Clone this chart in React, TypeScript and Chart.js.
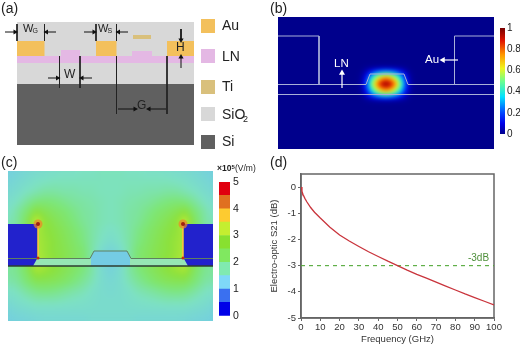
import React, { useEffect, useRef } from "react";
import { Chart, registerables } from "chart.js";

Chart.register(...registerables);

const FONT = "'Liberation Sans', Arial, sans-serif";

/* ---------- panel (d) data ---------- */
const freqGHz = [0, 0.5, 1, 2, 3, 5, 7, 10, 15, 20, 25, 30, 35, 40, 45, 50, 55, 60, 65, 70, 75, 80, 85, 90, 95, 100];
const s21dB = [0, -0.16, -0.27, -0.43, -0.56, -0.78, -0.96, -1.18, -1.53, -1.83, -2.06, -2.27, -2.47, -2.65, -2.83, -3.0, -3.17, -3.33, -3.48, -3.63, -3.78, -3.93, -4.08, -4.22, -4.36, -4.5];
const cutoffDb = -3;
const freqTicks = [0, 100];
const legendNames = ["Au", "LN", "Ti", "SiO", "Si"];

/* ---------- panel (b): mode profile, one quadrant about the waveguide centre ---------- */
const modeDx = [0, 5, 10, 15, 20, 25, 30];
const modeDy = [0, 4, 8, 12, 16, 20];
const modeQuadrant = [
  [1.0, 0.92, 0.72, 0.48, 0.17, 0.02, 0],
  [0.85, 0.78, 0.62, 0.4, 0.14, 0.015, 0],
  [0.66, 0.6, 0.48, 0.3, 0.1, 0.01, 0],
  [0.33, 0.3, 0.23, 0.14, 0.05, 0.005, 0],
  [0.04, 0.035, 0.03, 0.02, 0.01, 0, 0],
  [0, 0, 0, 0, 0, 0, 0],
];
const modeTicks = [0, 1];

/* ---------- panel (c): electric field, left half of a symmetric section ---------- */
const fieldCx = [8, 17, 27, 36, 45, 55, 64, 73, 83, 92, 101, 110.5];
const fieldCy = [171, 181, 191, 201, 211, 221, 231, 241, 251, 261, 271, 281, 291, 301, 311, 321];
const fieldCHalf = [
  [1.3, 1.4, 1.5, 1.55, 1.6, 1.65, 1.7, 1.7, 1.75, 1.75, 1.8, 1.8],
  [1.4, 1.5, 1.6, 1.7, 1.75, 1.8, 1.8, 1.8, 1.8, 1.8, 1.8, 1.8],
  [1.5, 1.6, 1.75, 1.85, 1.95, 1.95, 1.9, 1.9, 1.85, 1.85, 1.8, 1.8],
  [1.6, 1.75, 2.0, 2.2, 2.25, 2.2, 2.1, 2.0, 1.95, 1.9, 1.85, 1.8],
  [1.7, 1.95, 2.3, 2.7, 2.55, 2.4, 2.3, 2.15, 2.0, 1.95, 1.85, 1.8],
  [1.8, 2.0, 2.5, 3.2, 2.75, 2.55, 2.4, 2.25, 2.05, 1.95, 1.85, 1.8],
  [1.8, 2.0, 2.5, 3.0, 2.8, 2.65, 2.5, 2.35, 2.15, 1.95, 1.8, 1.7],
  [1.8, 2.0, 2.5, 3.0, 2.85, 2.7, 2.55, 2.4, 2.2, 1.95, 1.75, 1.6],
  [1.8, 2.0, 2.5, 3.05, 2.85, 2.7, 2.6, 2.45, 2.3, 1.95, 1.6, 1.4],
  [1.9, 2.1, 2.6, 3.1, 2.9, 2.75, 2.6, 2.45, 2.3, 1.95, 1.5, 1.3],
  [2.0, 2.1, 2.45, 2.95, 2.85, 2.7, 2.55, 2.4, 2.2, 1.95, 1.6, 1.4],
  [1.9, 2.0, 2.3, 2.55, 2.55, 2.5, 2.4, 2.25, 2.05, 1.85, 1.6, 1.5],
  [1.7, 1.8, 2.0, 2.15, 2.2, 2.15, 2.05, 1.95, 1.85, 1.7, 1.6, 1.55],
  [1.55, 1.65, 1.75, 1.85, 1.85, 1.85, 1.8, 1.75, 1.7, 1.65, 1.6, 1.6],
  [1.4, 1.5, 1.55, 1.6, 1.6, 1.6, 1.6, 1.6, 1.6, 1.6, 1.6, 1.6],
  [1.3, 1.35, 1.4, 1.45, 1.5, 1.5, 1.5, 1.5, 1.5, 1.55, 1.55, 1.55],
];
const fieldBarStep = [0.5, 0.5, 0.5, 0.5, 0.5, 0.5, 0.5, 0.5, 0.5, 0.5];
const fieldBarColors = ["#0000e8", "#3a70f0", "#7fd8f8", "#80eab0", "#80e860", "#88e030", "#c4ee30", "#fdcb30", "#e07020", "#e0000f"];

/* ---------- colour maps ---------- */
type Stop = [number, number, number, number];
const jetStops: Stop[] = [
  [0, 0, 0, 140], [0.1, 0, 0, 235], [0.2, 0, 70, 255], [0.35, 0, 225, 255], [0.5, 110, 255, 140],
  [0.62, 240, 245, 30], [0.75, 255, 150, 0], [0.88, 225, 20, 0], [1, 120, 0, 0],
];
const fieldStops: Stop[] = [
  [0, 0, 0, 230], [0.75, 60, 110, 235], [1.25, 115, 205, 225], [1.75, 125, 225, 195], [2.25, 125, 230, 120],
  [2.75, 140, 225, 60], [3.25, 200, 235, 50], [3.75, 255, 205, 40], [4.25, 230, 115, 30], [4.75, 225, 0, 0],
];
function sample(stops: Stop[], v: number): number[] {
  if (v <= stops[0][0]) return stops[0].slice(1);
  for (let i = 1; i < stops.length; i++) {
    if (v <= stops[i][0]) {
      const a = stops[i - 1], b = stops[i];
      const t = (v - a[0]) / (b[0] - a[0]);
      return [1, 2, 3].map((k) => a[k] + (b[k] - a[k]) * t);
    }
  }
  return stops[stops.length - 1].slice(1);
}

/* ---------- helpers ---------- */
type P = [number, number];
const rectPts = (x0: number, y0: number, x1: number, y1: number): P[] => [[x0, y0], [x1, y0], [x1, y1], [x0, y1]];
const xy = (pts: P[]) => pts.map(([x, y]) => ({ x, y }));
const shape = (pts: P[], color: string) => ({ data: xy(pts), showLine: false, pointRadius: 0, polyFill: color, clip: false });
const stroke = (pts: P[], color: string, width = 1, dash: number[] = []) => ({
  data: xy(pts), showLine: true, borderColor: color, borderWidth: width, borderDash: dash, pointRadius: 0, tension: 0, fill: false, clip: false,
});
const arrow = (a: P, b: P, color = "#111", width = 1, head = 3) => ({
  ...stroke([a, b], color, width),
  pointRadius: [0, head],
  pointStyle: "triangle",
  pointRotation: (Math.atan2(b[1] - a[1], b[0] - a[0]) * 180) / Math.PI + 90,
  pointBackgroundColor: color,
  pointBorderColor: color,
  pointBorderWidth: 0,
});
const stack = (sets: any[]) => sets.map((s, i) => ({ ...s, order: sets.length - i }));

type Label = { t: string; x: number; y: number; size: number; color?: string; weight?: string; align?: CanvasTextAlign };

const polyPlugin = {
  id: "polyFill",
  beforeDatasetDraw(chart: any, args: any) {
    const ds = chart.data.datasets[args.index];
    if (!ds.polyFill) return;
    const pts = args.meta.data;
    const ctx = chart.ctx;
    ctx.save();
    ctx.beginPath();
    pts.forEach((p: any, i: number) => (i ? ctx.lineTo(p.x, p.y) : ctx.moveTo(p.x, p.y)));
    ctx.closePath();
    ctx.fillStyle = ds.polyFill;
    ctx.fill();
    ctx.restore();
  },
};

const labelPlugin = (labels: Label[]) => ({
  id: "panelLabels",
  afterDatasetsDraw(chart: any) {
    const { ctx, scales } = chart;
    ctx.save();
    ctx.textBaseline = "middle";
    for (const l of labels) {
      ctx.font = `${l.weight || "normal"} ${l.size}px ${FONT}`;
      ctx.fillStyle = l.color || "#222";
      ctx.textAlign = l.align || "left";
      ctx.fillText(l.t, scales.x.getPixelForValue(l.x), scales.y.getPixelForValue(l.y));
    }
    ctx.restore();
  },
});

const findCell = (axis: number[], v: number) => {
  let i = 0;
  while (i < axis.length - 2 && v > axis[i + 1]) i++;
  const t = Math.max(0, Math.min(1, (v - axis[i]) / (axis[i + 1] - axis[i])));
  return [i, t];
};

const fieldPlugin = (xs: number[], ys: number[], grid: number[][], stops: Stop[], soften: number) => ({
  id: "panelField",
  beforeDatasetsDraw(chart: any) {
    const { ctx, scales } = chart;
    const px0 = Math.round(scales.x.getPixelForValue(xs[0]));
    const px1 = Math.round(scales.x.getPixelForValue(xs[xs.length - 1]));
    const py0 = Math.round(scales.y.getPixelForValue(ys[0]));
    const py1 = Math.round(scales.y.getPixelForValue(ys[ys.length - 1]));
    const w = px1 - px0, h = py1 - py0;
    const img = ctx.createImageData(w, h);
    for (let r = 0; r < h; r++) {
      const [j, v] = findCell(ys, scales.y.getValueForPixel(py0 + r + 0.5));
      for (let c = 0; c < w; c++) {
        const [i, u] = findCell(xs, scales.x.getValueForPixel(px0 + c + 0.5));
        const val =
          grid[j][i] * (1 - u) * (1 - v) + grid[j][i + 1] * u * (1 - v) +
          grid[j + 1][i] * (1 - u) * v + grid[j + 1][i + 1] * u * v;
        const rgb = sample(stops, val);
        const o = (r * w + c) * 4;
        img.data[o] = rgb[0]; img.data[o + 1] = rgb[1]; img.data[o + 2] = rgb[2]; img.data[o + 3] = 255;
      }
    }
    const off = document.createElement("canvas");
    off.width = w; off.height = h;
    off.getContext("2d")!.putImageData(img, 0, 0);
    ctx.drawImage(off, px0, py0);
    ctx.save();
    ctx.beginPath();
    ctx.rect(px0, py0, w, h);
    ctx.clip();
    ctx.filter = `blur(${soften}px)`;
    ctx.drawImage(off, px0, py0);
    ctx.restore();
  },
});

/* a diagram panel: page-sized units on hidden linear axes */
function panelConfig(range: number[], datasets: any[], plugins: any[]) {
  return {
    type: "scatter",
    data: { datasets: stack(datasets) },
    options: {
      animation: false, responsive: false,
      layout: { padding: 0, autoPadding: false },
      plugins: { legend: { display: false }, tooltip: { enabled: false }, title: { display: false } },
      scales: {
        x: { type: "linear", display: false, min: range[0], max: range[1] },
        y: { type: "linear", display: false, min: range[2], max: range[3], reverse: true },
      },
    },
    plugins: [polyPlugin, ...plugins],
  };
}

/* ---------- panel (a) ---------- */
const AU = "#f3c05c", LN = "#e4b8e4", TI = "#d9c07c", SIO2 = "#d8d8d8", SI = "#606060";
const panelA = () => {
  const swatches: [string, number][] = [[AU, 19], [LN, 49], [TI, 80], [SIO2, 107], [SI, 135]];
  const ds: any[] = [
    shape(rectPts(17, 22, 194, 84), SIO2),
    shape(rectPts(17, 84, 194, 145), SI),
    shape(rectPts(17, 56, 194, 63), LN),
    shape(rectPts(61, 50, 80, 56), LN),
    shape(rectPts(132, 51, 152, 56), LN),
    shape(rectPts(133, 35, 151, 39), TI),
    shape(rectPts(17, 41, 44.5, 56), AU),
    shape(rectPts(96, 41, 116.5, 56), AU),
    shape(rectPts(167, 41, 194, 56), AU),
    ...swatches.map(([c, y]) => shape(rectPts(201, y, 215, y + 14), c)),
    stroke([[17, 24], [17, 41]], "#222"),
    stroke([[44.5, 24], [44.5, 41]], "#222"),
    stroke([[96, 24], [96, 41]], "#222"),
    stroke([[116.5, 24], [116.5, 41]], "#222"),
    stroke([[59.5, 56], [59.5, 88]], "#222"),
    stroke([[80, 56], [80, 88]], "#222"),
    stroke([[116.5, 56], [116.5, 114]], "#222"),
    stroke([[167, 56], [167, 114]], "#222"),
    arrow([5, 32], [15, 32]),
    arrow([56, 32], [46.5, 32]),
    arrow([84, 32], [94, 32]),
    arrow([128, 32], [118.5, 32]),
    arrow([48, 78], [57.5, 78]),
    arrow([92, 78], [82, 78]),
    arrow([118, 109], [135, 109]),
    arrow([166, 109], [149, 109]),
    arrow([181, 29], [181, 40]),
    arrow([181, 68], [181, 57]),
  ];
  const labels: Label[] = [
    { t: "(a)", x: 1, y: 9, size: 14 },
    { t: "W", x: 23, y: 29, size: 11 },
    { t: "G", x: 32.5, y: 31, size: 7 },
    { t: "W", x: 98, y: 29, size: 11 },
    { t: "S", x: 107.5, y: 31, size: 7 },
    { t: "W", x: 64, y: 75, size: 12 },
    { t: "G", x: 137, y: 106, size: 12 },
    { t: "H", x: 176, y: 48, size: 12 },
    { t: legendNames[0], x: 222, y: 26, size: 14 },
    { t: legendNames[1], x: 222, y: 57, size: 14 },
    { t: legendNames[2], x: 222, y: 87, size: 14 },
    { t: legendNames[3], x: 222, y: 115, size: 14 },
    { t: "2", x: 243, y: 120, size: 9 },
    { t: legendNames[4], x: 222, y: 142, size: 14 },
  ];
  return panelConfig([0, 260, 0, 150], ds, [labelPlugin(labels)]);
};

/* ---------- panel (b) ---------- */
const panelB = () => {
  const cx = 386, cy = 84;
  const mx = [278, ...[...modeDx].reverse().map((d) => cx - d), ...modeDx.slice(1).map((d) => cx + d), 494];
  const my = [17, ...[...modeDy].reverse().map((d) => cy - d), ...modeDy.slice(1).map((d) => cy + d), 149];
  const row = (r: number[]) => [0, ...[...r].reverse(), ...r.slice(1), 0];
  const zero = row(modeDx.map(() => 0));
  const grid = [zero, ...[...modeQuadrant].reverse().map(row), ...modeQuadrant.slice(1).map(row), zero];
  const edge = "#a8b0d8";
  const ds = [
    stroke([[278, 36], [319, 36], [319, 84]], edge),
    stroke([[278, 84.5], [366, 84.5], [370, 74], [404, 74], [408, 84.5], [494, 84.5]], edge),
    stroke([[454.5, 84], [454.5, 36], [494, 36]], edge),
    stroke([[278, 94.5], [494, 94.5]], edge),
    arrow([342, 88], [342, 73], "#fff", 1.2, 3.5),
    arrow([458, 60], [443, 60], "#fff", 1.2, 3.5),
  ];
  const labels: Label[] = [
    { t: "(b)", x: 270, y: 9, size: 14 },
    { t: "LN", x: 334, y: 64, size: 11.5, color: "#fff" },
    { t: "Au", x: 425, y: 60, size: 11.5, color: "#fff" },
  ];
  return panelConfig([260, 500, 0, 150], ds, [fieldPlugin(mx, my, grid, jetStops, 2), labelPlugin(labels)]);
};

/* ---------- panel (c) ---------- */
const panelC = () => {
  const mirrorX = (x: number) => 221 - x;
  const xs = [...fieldCx, ...fieldCx.slice(0, -1).reverse().map(mirrorX)];
  const grid = fieldCHalf.map((r) => [...r, ...r.slice(0, -1).reverse()]);
  const blue = "#2222cc";
  const ln = "#5f7f60";
  const ds = [
    shape([[33, 259], [90, 259], [94, 251], [127, 251], [131, 259], [188, 259], [188, 266], [33, 266]], "#96e6b4"),
    shape([[91, 266], [91, 257], [94, 251], [127, 251], [130, 257], [130, 266]], "#74cce4"),
    shape([[8, 224], [37.5, 224], [37.5, 258], [33, 266], [8, 266]], blue),
    shape([[213, 224], [183.5, 224], [183.5, 258], [188, 266], [213, 266]], blue),
    stroke([[38.2, 226], [38.2, 258]], "rgba(253,192,64,0.8)", 1),
    stroke([[182.8, 226], [182.8, 258]], "rgba(253,192,64,0.8)", 1),
    stroke([[8, 258.5], [90, 258.5], [94, 251], [127, 251], [131, 258.5], [213, 258.5]], ln, 1),
    stroke([[8, 266], [213, 266]], "#2c3c30", 1.5),
    { ...stroke([[38, 224], [183, 224]], "transparent", 0), showLine: false, pointRadius: 4.5, pointBackgroundColor: "rgba(240,130,40,0.7)", pointBorderWidth: 0 },
    { ...stroke([[38, 224], [183, 224]], "transparent", 0), showLine: false, pointRadius: 2, pointBackgroundColor: "#a02010", pointBorderWidth: 0 },
    { ...stroke([[38, 258], [183, 258]], "transparent", 0), showLine: false, pointRadius: 1.5, pointBackgroundColor: "#c03010", pointBorderWidth: 0 },
  ];
  const labels: Label[] = [
    { t: "(c)", x: 1, y: 163, size: 14 },
    { t: "×10", x: 217, y: 169, size: 8.5, weight: "bold" },
    { t: "5", x: 231.5, y: 167, size: 6, weight: "bold" },
    { t: "(V/m)", x: 235, y: 169, size: 8.5 },
  ];
  return panelConfig([0, 260, 150, 346], ds, [fieldPlugin(xs, fieldCy, grid, fieldStops, 2.5), labelPlugin(labels)]);
};

/* ---------- colour bars ---------- */
const barBase = (w: number, padding: any, ticks: any, size: number, tickPad: number) => ({
  animation: false, responsive: false,
  layout: { padding, autoPadding: false },
  plugins: { legend: { display: false }, tooltip: { enabled: false } },
  scales: {
    x: { display: false, stacked: true },
    y: {
      position: "right", stacked: true, min: ticks[0], max: ticks[1],
      afterFit: (s: any) => { s.width = w; },
      border: { display: false },
      grid: { display: false, drawTicks: false },
      ticks: {
        stepSize: ticks[2], font: { family: FONT, size }, color: "#222", padding: tickPad, maxRotation: 0, autoSkip: false,
        callback: (v: any) => String(Math.round(v * 10) / 10),
      },
    },
  },
});

const modeBar = () => ({
  type: "bar",
  data: {
    labels: [""],
    datasets: [{
      data: [modeTicks[1]], barPercentage: 1, categoryPercentage: 1,
      backgroundColor: (c: any) => {
        const a = c.chart.chartArea;
        if (!a) return "#0000ff";
        const g = c.chart.ctx.createLinearGradient(0, a.bottom, 0, a.top);
        jetStops.forEach((s) => g.addColorStop(s[0], `rgb(${s[1]},${s[2]},${s[3]})`));
        return g;
      },
    }],
  },
  options: barBase(15, { top: 7, bottom: 8, left: 0, right: 0 }, [modeTicks[0], modeTicks[1], 0.2], 10, 2),
});

const fieldBar = () => ({
  type: "bar",
  data: {
    labels: [""],
    datasets: fieldBarStep.map((v, i) => ({
      data: [v], backgroundColor: fieldBarColors[i], barPercentage: 1, categoryPercentage: 1, borderWidth: 0,
    })),
  },
  options: barBase(30, { top: 22, bottom: 7, left: 4, right: 0 }, [0, 5, 1], 10.5, 3),
});

/* ---------- panel (d) ---------- */
const panelD = () => ({
  type: "scatter",
  data: {
    datasets: [
      { data: freqGHz.map((x, i) => ({ x, y: s21dB[i] })), showLine: true, borderColor: "#c9343c", borderWidth: 1.3, pointRadius: 0, tension: 0, order: 1 },
      { data: freqTicks.map((x) => ({ x, y: cutoffDb })), showLine: true, borderColor: "#52a838", borderWidth: 1.1, borderDash: [4, 4], pointRadius: 0, order: 2 },
      { data: xy([[0, 0.5], [100, 0.5], [100, -5], [0, -5], [0, 0.5]]), showLine: true, borderColor: "#666", borderWidth: 1.5, pointRadius: 0, clip: false, order: 3 },
    ],
  },
  options: {
    animation: false, responsive: false,
    layout: { padding: { top: 24, right: 26, left: 0, bottom: 0 }, autoPadding: false },
    plugins: { legend: { display: false }, tooltip: { enabled: false } },
    scales: {
      x: {
        type: "linear", min: 0, max: 100,
        afterFit: (s: any) => { s.height = 28; },
        border: { color: "#666", width: 1.5 },
        grid: { drawOnChartArea: false, color: "#666", tickLength: 3 },
        ticks: { stepSize: 10, font: { family: FONT, size: 9.5 }, color: "#333", padding: 1, maxRotation: 0, autoSkip: false },
        title: { display: true, text: "Frequency (GHz)", font: { family: FONT, size: 9.5 }, color: "#333", padding: { top: 0, bottom: 1 } },
      },
      y: {
        type: "linear", min: -5, max: 0.5,
        afterFit: (s: any) => { s.width = 41; },
        afterBuildTicks: (s: any) => { s.ticks = s.ticks.filter((t: any) => Number.isInteger(t.value)); },
        border: { color: "#666", width: 1.5 },
        grid: { drawOnChartArea: false, color: "#666", tickLength: 3 },
        ticks: { stepSize: 1, font: { family: FONT, size: 9.5 }, color: "#333", padding: 2 },
        title: { display: true, text: "Electro-optic S21 (dB)", font: { family: FONT, size: 9.5 }, color: "#333", padding: { top: 9, bottom: 0 } },
      },
    },
  },
  plugins: [
    {
      id: "panelDLabels",
      afterDatasetsDraw(chart: any) {
        const { ctx, scales } = chart;
        ctx.save();
        ctx.textBaseline = "middle";
        ctx.textAlign = "left";
        ctx.font = `10px ${FONT}`;
        ctx.fillStyle = "#4e8f3a";
        ctx.fillText("-3dB", scales.x.getPixelForValue(86.5), scales.y.getPixelForValue(-2.7));
        ctx.fillStyle = "#222";
        ctx.font = `14px ${FONT}`;
        ctx.fillText("(d)", 10, 13);
        ctx.restore();
      },
    },
  ],
});

/* ---------- canvases ---------- */
const slots: { left: number; top: number; w: number; h: number; make: () => any }[] = [
  { left: 0, top: 0, w: 260, h: 150, make: panelA },
  { left: 260, top: 0, w: 240, h: 150, make: panelB },
  { left: 500, top: 20, w: 20, h: 122, make: modeBar },
  { left: 0, top: 150, w: 260, h: 196, make: panelC },
  { left: 215, top: 160, w: 45, h: 165, make: fieldBar },
  { left: 260, top: 150, w: 260, h: 196, make: panelD },
];

function Slot({ s }: { s: (typeof slots)[number] }) {
  const ref = useRef<HTMLCanvasElement>(null);
  useEffect(() => {
    const chart = new Chart(ref.current as any, s.make());
    return () => chart.destroy();
  }, []);
  return (
    <canvas
      ref={ref}
      width={s.w}
      height={s.h}
      style={{ position: "absolute", left: s.left, top: s.top, width: s.w, height: s.h, display: "block", filter: "blur(0.35px)" }}
    />
  );
}

export default function App() {
  return (
    <div style={{ position: "fixed", left: 0, top: 0, width: 520, height: 346, background: "#fff", overflow: "hidden" }}>
      {slots.map((s, i) => (
        <Slot key={i} s={s} />
      ))}
    </div>
  );
}
